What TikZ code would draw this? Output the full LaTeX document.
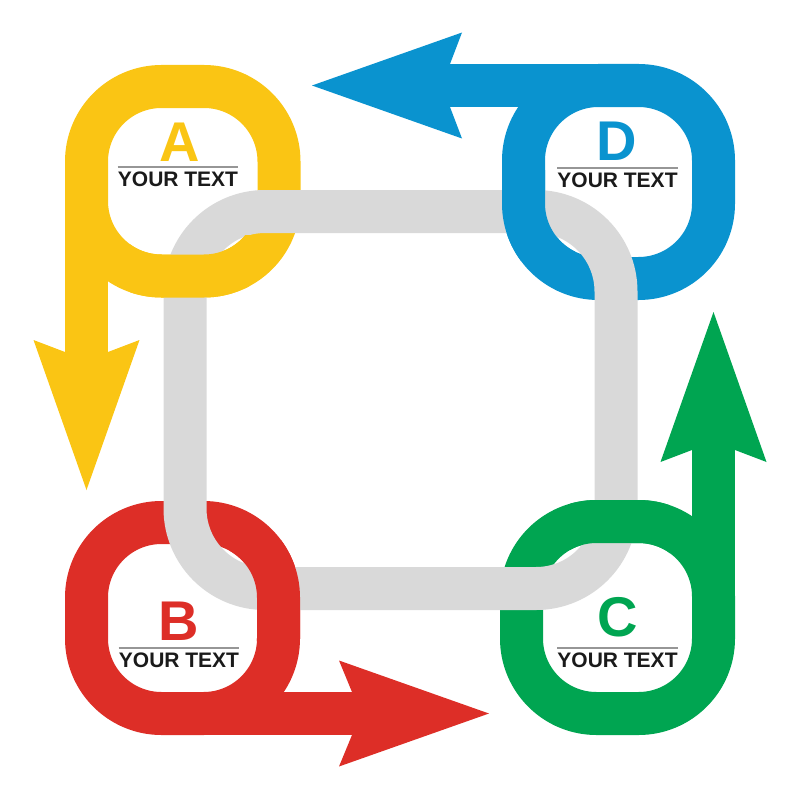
\documentclass[tikz,border=0pt]{standalone}
\usepackage{fontspec}
\setmainfont{Liberation Sans}

\begin{document}
\begin{tikzpicture}[
  x=1pt, y=-1pt,
  % --- band styles ---
  band/.style={draw=#1, line width=43pt},
  link/.style={draw=cGray, line width=43pt},
  letter/.style={font=\fontsize{56}{56}\selectfont\bfseries,
                 text=#1, inner sep=0pt, anchor=base},
  caption/.style={font=\fontsize{21}{21}\selectfont\bfseries,
                  text=cText, inner sep=0pt, anchor=base},
  rule/.style={draw=cRule, line width=2.5pt},
]
  % --- Colours ---
  \definecolor{cYellow}{RGB}{250,197,20}
  \definecolor{cBlue}{RGB}{10,147,207}
  \definecolor{cRed}{RGB}{221,46,39}
  \definecolor{cGreen}{RGB}{0,165,81}
  \definecolor{cGray}{RGB}{217,217,217}
  \definecolor{cRule}{RGB}{150,150,150}
  \definecolor{cText}{RGB}{26,26,26}

  \useasboundingbox (0,0) rectangle (800,800);

  % --- Ring A (yellow), arrow down ---
  \draw[band=cYellow, rounded corners=75pt] (86.5,86.5) rectangle (279,276);
  \draw[band=cYellow] (86.5,200) -- (86.5,352);
  \fill[cYellow] (65,352) -- (33.5,340) -- (86.5,490) -- (139.5,340)
    -- (108,352) -- cycle;

  % --- Ring D (blue), arrow left ---
  \draw[band=cBlue, rounded corners=75pt] (523.5,85.5) rectangle (713.5,278.5);
  \draw[band=cBlue] (600,85.5) -- (450,85.5);
  \fill[cBlue] (450,107) -- (462,138.5) -- (312,85.5) -- (462,32.5)
    -- (450,64) -- cycle;

  % --- Ring B (red), arrow right ---
  \draw[band=cRed, rounded corners=75pt] (86.5,522.5) rectangle (278.5,713.5);
  \draw[band=cRed] (200,713.5) -- (352,713.5);
  \fill[cRed] (352,692) -- (339,660.5) -- (489,713.5) -- (339,766.5)
    -- (352,735) -- cycle;

  % --- Ring C (green), arrow up ---
  \draw[band=cGreen, rounded corners=75pt] (521.5,521.5) rectangle (713.5,713.5);
  \draw[band=cGreen] (713.5,600) -- (713.5,450);
  \fill[cGreen] (692,450) -- (660.5,462) -- (713.5,312) -- (766.5,462)
    -- (735,450) -- cycle;

  % --- Central link (gray), over every ring ---
  \draw[link, rounded corners=80pt] (185,211.5) rectangle (616,588.5);

  % --- Rings back on top where they pass over the link ---
  \begin{scope}
    \clip (130,235) rectangle (250,320);
    \draw[band=cYellow, rounded corners=75pt] (86.5,86.5) rectangle (279,276);
  \end{scope}
  \begin{scope}
    \clip (480,170) rectangle (575,260);
    \draw[band=cBlue, rounded corners=75pt] (523.5,85.5) rectangle (713.5,278.5);
  \end{scope}
  \begin{scope}
    \clip (570,470) rectangle (670,560);
    \draw[band=cGreen, rounded corners=75pt] (521.5,521.5) rectangle (713.5,713.5);
  \end{scope}
  \begin{scope}
    \clip (230,540) rectangle (330,640);
    \draw[band=cRed, rounded corners=75pt] (86.5,522.5) rectangle (278.5,713.5);
  \end{scope}

  % --- Labels ---
  \node[letter=cYellow] (letA) at (180,161) {A};
  \node[caption] (capA) at (178,186) {YOUR TEXT};
  \draw[rule] ([yshift=4pt]capA.north west) -- ([yshift=4pt]capA.north east);

  \node[letter=cBlue] (letD) at (617,160) {D};
  \node[caption] (capD) at (617.5,187) {YOUR TEXT};
  \draw[rule] ([yshift=4pt]capD.north west) -- ([yshift=4pt]capD.north east);

  \node[letter=cRed] (letB) at (179,640) {B};
  \node[caption] (capB) at (179,667) {YOUR TEXT};
  \draw[rule] ([yshift=4pt]capB.north west) -- ([yshift=4pt]capB.north east);

  \node[letter=cGreen] (letC) at (618,636) {C};
  \node[caption] (capC) at (617.5,667) {YOUR TEXT};
  \draw[rule] ([yshift=4pt]capC.north west) -- ([yshift=4pt]capC.north east);
\end{tikzpicture}
\end{document}
